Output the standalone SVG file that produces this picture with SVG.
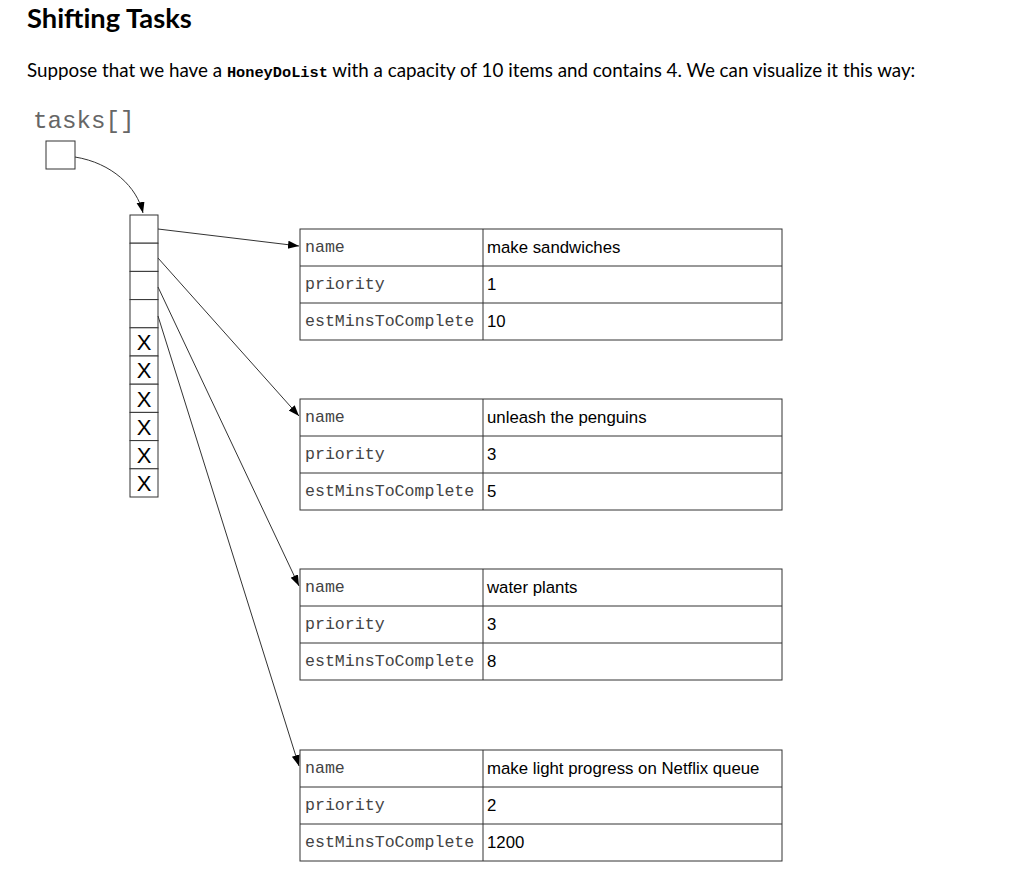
<svg xmlns="http://www.w3.org/2000/svg" width="1024" height="875" viewBox="0 0 1024 875">
<style>
.title{font-family:Lato,"Open Sans",sans-serif;font-weight:bold;font-size:27.3px;fill:#000}
.para{font-family:Lato,"Open Sans",sans-serif;font-size:18.8px;fill:#000}
.code{font-family:"Liberation Mono",monospace;font-weight:bold;font-size:15.3px}
.box{fill:#fff;stroke:#333;stroke-width:1}
.lbl{font-family:"Liberation Mono",monospace;font-size:16.6px;fill:#444}
.val{font-family:"Liberation Sans",Arial,sans-serif;font-size:16.8px;fill:#000}
.x{font-family:"Liberation Sans",Arial,sans-serif;font-size:22px;fill:#000;text-anchor:middle}
.conn{fill:none;stroke:#333;stroke-width:1}
.var{font-family:"Liberation Mono",monospace;font-size:24.2px;fill:#666}
</style>
<defs>
<marker id="ah" markerUnits="userSpaceOnUse" markerWidth="12" markerHeight="9" refX="11" refY="4" orient="auto">
<path d="M0,0 L11,4 L0,8 z" fill="#000"/>
</marker>
</defs>
<rect width="1024" height="875" fill="#fff"/>
<text class="title" x="27" y="28">Shifting Tasks</text>
<text class="para" x="27" y="77">Suppose that we have a <tspan class="code">HoneyDoList</tspan> with a capacity of 10 items and contains 4. We can visualize it this way:</text>

<g id="tasks-var">
<text class="var" x="33" y="128">tasks[]</text>
<rect class="box" x="46" y="141" width="29" height="28"/>
</g>

<g id="array">
<rect class="box" x="130" y="215" width="28" height="28.2"/>
<rect class="box" x="130" y="243.2" width="28" height="28.2"/>
<rect class="box" x="130" y="271.4" width="28" height="28.2"/>
<rect class="box" x="130" y="299.6" width="28" height="28.2"/>
<rect class="box" x="130" y="327.8" width="28" height="28.2"/>
<rect class="box" x="130" y="356" width="28" height="28.2"/>
<rect class="box" x="130" y="384.2" width="28" height="28.2"/>
<rect class="box" x="130" y="412.4" width="28" height="28.2"/>
<rect class="box" x="130" y="440.6" width="28" height="28.2"/>
<rect class="box" x="130" y="468.8" width="28" height="28.2"/>
<text class="x" x="144" y="350">X</text>
<text class="x" x="144" y="378">X</text>
<text class="x" x="144" y="406.5">X</text>
<text class="x" x="144" y="434.5">X</text>
<text class="x" x="144" y="463">X</text>
<text class="x" x="144" y="491">X</text>
</g>

<g id="task1">
<rect class="box" x="300" y="229" width="482" height="111"/>
<line class="conn" x1="300" y1="266" x2="782" y2="266"/>
<line class="conn" x1="300" y1="303" x2="782" y2="303"/>
<line class="conn" x1="483" y1="229" x2="483" y2="340"/>
<text class="lbl" x="305" y="252">name</text>
<text class="lbl" x="305" y="289">priority</text>
<text class="lbl" x="305" y="326">estMinsToComplete</text>
<text class="val" x="487" y="253">make sandwiches</text>
<text class="val" x="487" y="290">1</text>
<text class="val" x="487" y="327">10</text>
</g>

<g id="task2">
<rect class="box" x="300" y="399" width="482" height="111"/>
<line class="conn" x1="300" y1="436" x2="782" y2="436"/>
<line class="conn" x1="300" y1="473" x2="782" y2="473"/>
<line class="conn" x1="483" y1="399" x2="483" y2="510"/>
<text class="lbl" x="305" y="422">name</text>
<text class="lbl" x="305" y="459">priority</text>
<text class="lbl" x="305" y="496">estMinsToComplete</text>
<text class="val" x="487" y="423">unleash the penguins</text>
<text class="val" x="487" y="460">3</text>
<text class="val" x="487" y="497">5</text>
</g>

<g id="task3">
<rect class="box" x="300" y="569" width="482" height="111"/>
<line class="conn" x1="300" y1="606" x2="782" y2="606"/>
<line class="conn" x1="300" y1="643" x2="782" y2="643"/>
<line class="conn" x1="483" y1="569" x2="483" y2="680"/>
<text class="lbl" x="305" y="592">name</text>
<text class="lbl" x="305" y="629">priority</text>
<text class="lbl" x="305" y="666">estMinsToComplete</text>
<text class="val" x="487" y="593">water plants</text>
<text class="val" x="487" y="630">3</text>
<text class="val" x="487" y="667">8</text>
</g>

<g id="task4">
<rect class="box" x="300" y="750" width="482" height="111"/>
<line class="conn" x1="300" y1="787" x2="782" y2="787"/>
<line class="conn" x1="300" y1="824" x2="782" y2="824"/>
<line class="conn" x1="483" y1="750" x2="483" y2="861"/>
<text class="lbl" x="305" y="773">name</text>
<text class="lbl" x="305" y="810">priority</text>
<text class="lbl" x="305" y="847">estMinsToComplete</text>
<text class="val" x="487" y="774">make light progress on Netflix queue</text>
<text class="val" x="487" y="811">2</text>
<text class="val" x="487" y="848">1200</text>
</g>

<g id="connectors">
<path class="conn" d="M75,157 C112,163 137,187 143,213" marker-end="url(#ah)"/>
<line class="conn" x1="158" y1="229" x2="299" y2="246" marker-end="url(#ah)"/>
<line class="conn" x1="158" y1="258" x2="299" y2="416" marker-end="url(#ah)"/>
<line class="conn" x1="158" y1="287" x2="299" y2="586" marker-end="url(#ah)"/>
<line class="conn" x1="158" y1="316" x2="299" y2="766" marker-end="url(#ah)"/>
</g>
</svg>
